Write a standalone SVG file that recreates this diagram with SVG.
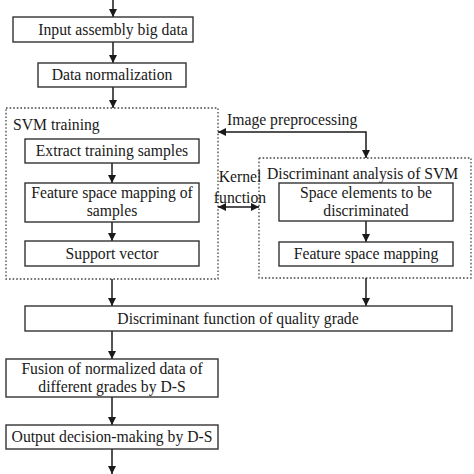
<svg xmlns="http://www.w3.org/2000/svg" width="474" height="474" viewBox="0 0 474 474">
<defs>
<marker id="ah" viewBox="0 0 10 10" refX="10" refY="5" markerWidth="8" markerHeight="8" markerUnits="userSpaceOnUse" orient="auto-start-reverse">
<path d="M0,0 L10,5 L0,10 z" fill="#1a1a1a"/>
</marker>
<style>
.box{fill:#fff;stroke:#333;stroke-width:1.4}
.grp{fill:none;stroke:#444;stroke-width:1.3;stroke-dasharray:1.6,2}
.ln{fill:none;stroke:#1a1a1a;stroke-width:1.5}
text{font-family:"Liberation Serif","Times New Roman",serif;font-size:15.7px;fill:#1a1a1a}
.c{text-anchor:middle}
</style>
</defs>
<rect width="474" height="474" fill="#fff"/>
<g id="svm-training-group">
<rect class="grp" x="6" y="108" width="212" height="171"/>
<text x="13" y="130">SVM training</text>
</g>
<g id="discriminant-analysis-group">
<rect class="grp" x="259" y="158" width="212" height="120"/>
<text x="267" y="179">Discriminant analysis of SVM</text>
</g>
<g id="connectors">
<line class="ln" x1="113" y1="0" x2="113" y2="17" marker-end="url(#ah)"/>
<line class="ln" x1="113" y1="42" x2="113" y2="63" marker-end="url(#ah)"/>
<line class="ln" x1="113" y1="87" x2="113" y2="108" marker-end="url(#ah)"/>
<line class="ln" x1="112" y1="163" x2="112" y2="183" marker-end="url(#ah)"/>
<line class="ln" x1="112" y1="222" x2="112" y2="241" marker-end="url(#ah)"/>
<line class="ln" x1="112" y1="279" x2="112" y2="306" marker-end="url(#ah)"/>
<line class="ln" x1="366" y1="278" x2="366" y2="306" marker-end="url(#ah)"/>
<polyline class="ln" points="218,132 366,132 366,158" marker-start="url(#ah)" marker-end="url(#ah)"/>
<line class="ln" x1="218" y1="207" x2="259" y2="207" marker-start="url(#ah)" marker-end="url(#ah)"/>
<line class="ln" x1="366" y1="221" x2="366" y2="242" marker-end="url(#ah)"/>
<line class="ln" x1="112" y1="331" x2="112" y2="359" marker-end="url(#ah)"/>
<line class="ln" x1="112" y1="397" x2="112" y2="425" marker-end="url(#ah)"/>
<line class="ln" x1="112" y1="449" x2="112" y2="474" marker-end="url(#ah)"/>
<text x="227" y="125">Image preprocessing</text>
<text class="c" x="240" y="182">Kernel</text>
<text class="c" x="240" y="203">function</text>
</g>
<g id="input-assembly">
<rect class="box" x="13" y="17" width="180" height="25"/>
<text class="c" x="113" y="35">Input assembly big data</text>
</g>
<g id="data-normalization">
<rect class="box" x="38" y="63" width="148" height="24"/>
<text class="c" x="112" y="80">Data normalization</text>
</g>
<g id="extract-samples">
<rect class="box" x="25" y="139" width="174" height="24"/>
<text class="c" x="112" y="156">Extract training samples</text>
</g>
<g id="feature-mapping-samples">
<rect class="box" x="25" y="183" width="174" height="39"/>
<text class="c" x="112" y="198">Feature space mapping of</text>
<text class="c" x="112" y="216">samples</text>
</g>
<g id="support-vector">
<rect class="box" x="25" y="241" width="174" height="25"/>
<text class="c" x="112" y="259">Support vector</text>
</g>
<g id="space-elements">
<rect class="box" x="279" y="183" width="174" height="38"/>
<text class="c" x="366" y="198">Space elements to be</text>
<text class="c" x="366" y="216">discriminated</text>
</g>
<g id="feature-mapping">
<rect class="box" x="279" y="242" width="174" height="24"/>
<text class="c" x="366" y="259">Feature space mapping</text>
</g>
<g id="discriminant-function">
<rect class="box" x="25" y="306" width="427" height="25"/>
<text class="c" x="238" y="324">Discriminant function of quality grade</text>
</g>
<g id="fusion">
<rect class="box" x="6" y="359" width="212" height="38"/>
<text class="c" x="112" y="374">Fusion of normalized data of</text>
<text class="c" x="112" y="392">different grades by D-S</text>
</g>
<g id="output-decision">
<rect class="box" x="6" y="425" width="212" height="24"/>
<text class="c" x="112" y="442">Output decision-making by D-S</text>
</g>
</svg>
